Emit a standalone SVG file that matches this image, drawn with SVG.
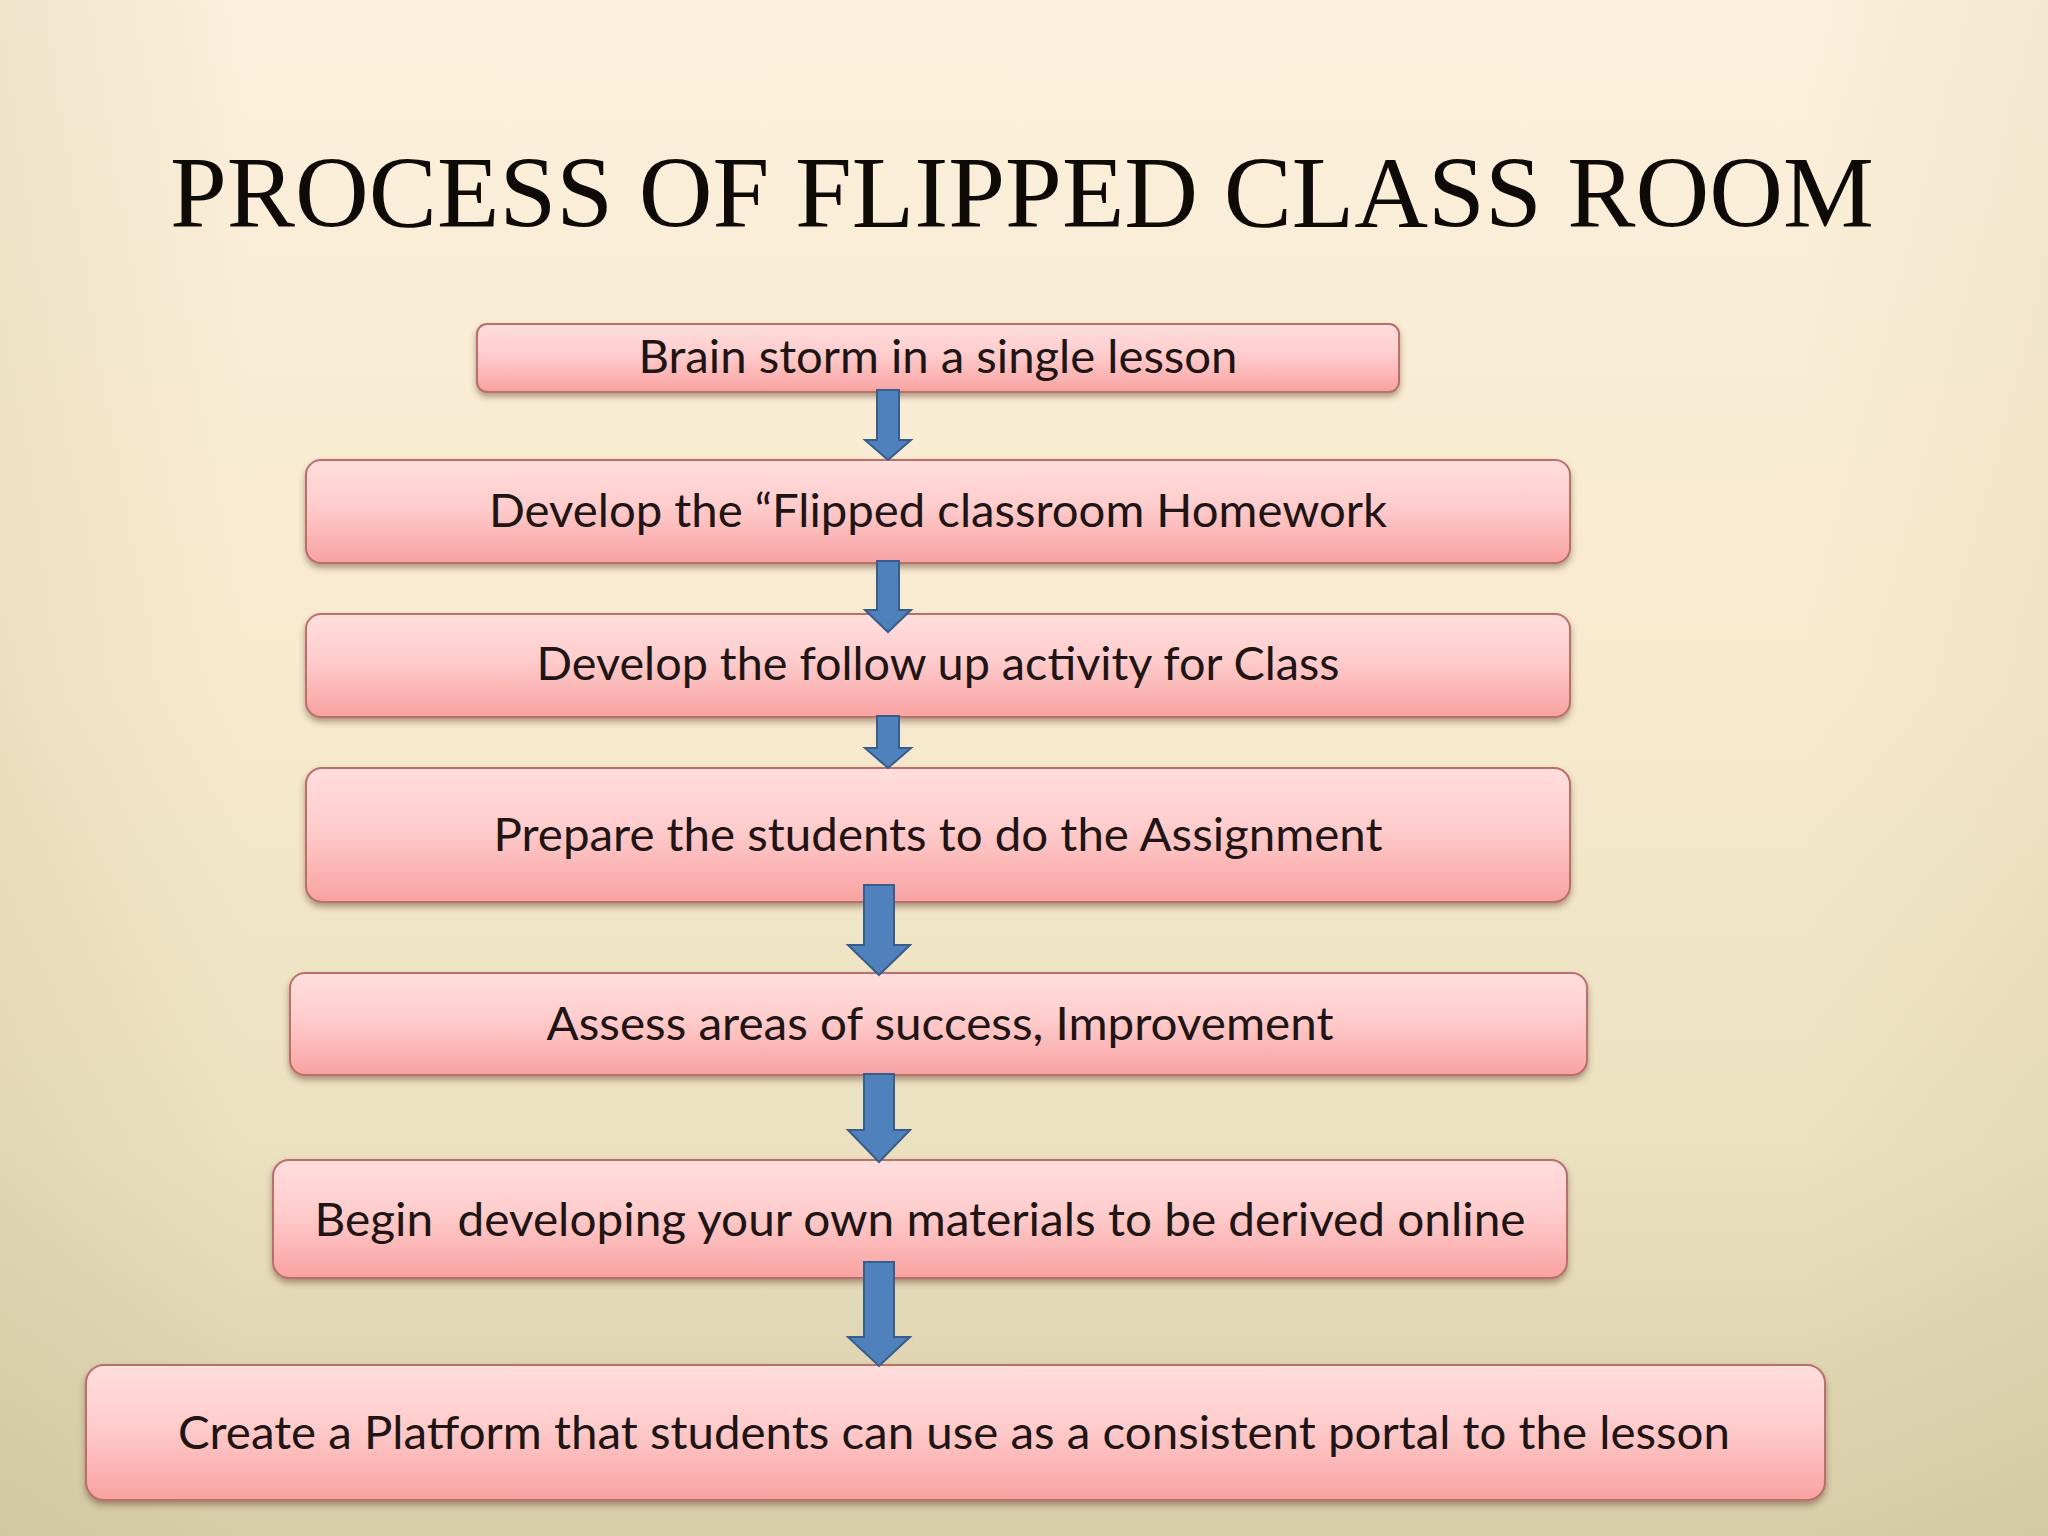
<svg xmlns="http://www.w3.org/2000/svg" width="2048" height="1536" viewBox="0 0 2048 1536">
  <defs>
    <linearGradient id="bg" x1="0" y1="0" x2="0" y2="1">
      <stop offset="0" stop-color="#fcf0dc"/>
      <stop offset="0.45" stop-color="#f7eacf"/>
      <stop offset="0.75" stop-color="#ebe0c0"/>
      <stop offset="1" stop-color="#d7cda9"/>
    </linearGradient>
    <linearGradient id="vig" x1="0" y1="0" x2="1" y2="0">
      <stop offset="0" stop-color="#b8ac80" stop-opacity="0.18"/>
      <stop offset="0.12" stop-color="#b8ac80" stop-opacity="0"/>
      <stop offset="0.88" stop-color="#b8ac80" stop-opacity="0"/>
      <stop offset="1" stop-color="#b8ac80" stop-opacity="0.12"/>
    </linearGradient>
    <linearGradient id="boxfill" x1="0" y1="0" x2="0" y2="1">
      <stop offset="0" stop-color="#ffdede"/>
      <stop offset="0.45" stop-color="#ffcccc"/>
      <stop offset="1" stop-color="#f8a2a1"/>
    </linearGradient>
    <filter id="shadow" x="-5%" y="-20%" width="110%" height="150%">
      <feDropShadow dx="0" dy="4" stdDeviation="3" flood-color="#5a3020" flood-opacity="0.45"/>
    </filter>
  </defs>
  <style>
    .box { fill: url(#boxfill); stroke: #b86f6a; stroke-width: 2; filter: url(#shadow); }
    .lbl { font-family: Lato, "Open Sans", "DejaVu Sans", sans-serif; font-size: 46px; fill: #201414; text-anchor: middle; }
    .title { font-family: "Liberation Serif", "Times New Roman", serif; font-size: 102px; fill: #0e0a08; text-anchor: middle; }
    .arrow { fill: #4f81bd; stroke: #385d8a; stroke-width: 2; stroke-linejoin: miter; }
  </style>

  <rect x="0" y="0" width="2048" height="1536" fill="url(#bg)"/>
  <rect x="0" y="0" width="2048" height="1536" fill="url(#vig)"/>

  <g id="title">
    <text class="title" x="1022" y="227" textLength="1704" lengthAdjust="spacingAndGlyphs">PROCESS OF FLIPPED CLASS ROOM</text>
  </g>

  <g id="node1">
    <rect class="box" x="477" y="324" width="922" height="68" rx="10"/>
    <text class="lbl" x="938" y="373" textLength="599" lengthAdjust="spacingAndGlyphs">Brain storm in a single lesson</text>
  </g>
  <g id="node2">
    <rect class="box" x="306" y="460" width="1264" height="103" rx="15"/>
    <text class="lbl" x="938" y="527" textLength="898" lengthAdjust="spacingAndGlyphs">Develop the “Flipped classroom Homework</text>
  </g>
  <g id="node3">
    <rect class="box" x="306" y="614" width="1264" height="103" rx="15"/>
    <text class="lbl" x="938" y="680" textLength="803" lengthAdjust="spacingAndGlyphs">Develop the follow up activity for Class</text>
  </g>
  <g id="node4">
    <rect class="box" x="306" y="768" width="1264" height="134" rx="16"/>
    <text class="lbl" x="938" y="851" textLength="889" lengthAdjust="spacingAndGlyphs">Prepare the students to do the Assignment</text>
  </g>
  <g id="node5">
    <rect class="box" x="290" y="973" width="1297" height="102" rx="15"/>
    <text class="lbl" x="940" y="1040" textLength="787" lengthAdjust="spacingAndGlyphs">Assess areas of success, Improvement</text>
  </g>
  <g id="node6">
    <rect class="box" x="273" y="1160" width="1294" height="118" rx="16"/>
    <text class="lbl" x="920" y="1236" textLength="1211" lengthAdjust="spacingAndGlyphs" xml:space="preserve">Begin  developing your own materials to be derived online</text>
  </g>
  <g id="node7">
    <rect class="box" x="86" y="1365" width="1739" height="135" rx="18"/>
    <text class="lbl" x="954" y="1449" textLength="1552" lengthAdjust="spacingAndGlyphs">Create a Platform that students can use as a consistent portal to the lesson</text>
  </g>

  <g id="connectors">
    <polygon class="arrow" points="877,390 899,390 899,440 911,440 888,460 865,440 877,440"/>
    <polygon class="arrow" points="877,561 899,561 899,610 911,610 888,632 865,610 877,610"/>
    <polygon class="arrow" points="877,716 899,716 899,748 911,748 888,768 865,748 877,748"/>
    <polygon class="arrow" points="864,885 894,885 894,945 910,945 879,975 848,945 864,945"/>
    <polygon class="arrow" points="864,1074 894,1074 894,1130 910,1130 879,1162 848,1130 864,1130"/>
    <polygon class="arrow" points="864,1262 894,1262 894,1337 910,1337 879,1366 848,1337 864,1337"/>
  </g>
</svg>
